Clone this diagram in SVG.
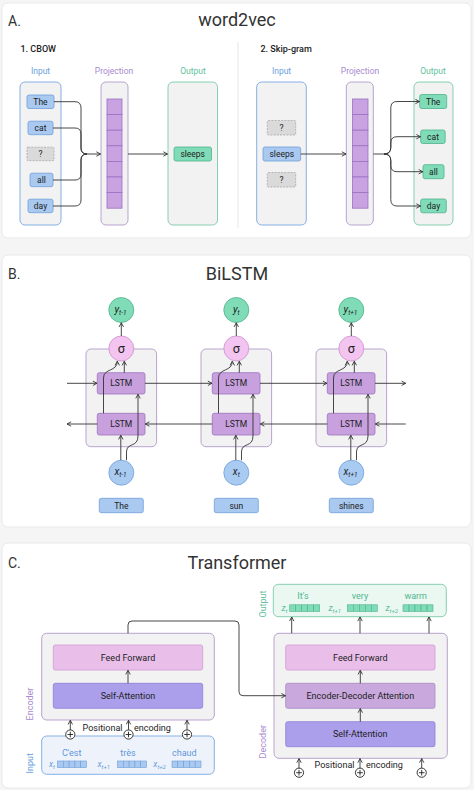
<svg xmlns="http://www.w3.org/2000/svg" width="474" height="790" viewBox="0 0 474 790">
<defs>
<marker id="ah" viewBox="0 0 6 6" refX="5.6" refY="3" markerWidth="6" markerHeight="6" orient="auto-start-reverse" markerUnits="userSpaceOnUse"><path d="M1.5,0.8 L5.6,3 L1.5,5.2" fill="none" stroke="#333" stroke-width="0.9"/></marker>
<style>
text{font-family:Roboto,"Liberation Sans",sans-serif;fill:#222}
.panel{fill:#fff;stroke:#e9e9e9;stroke-width:1}
.ttl{font-size:18px;text-anchor:middle;fill:#333}
.let{font-size:14px;fill:#333}
.sub{font-size:9px;font-weight:500;fill:#222}
.lbl{font-size:8.5px;text-anchor:middle}
.wt{font-size:8.5px;text-anchor:middle;fill:#222}
.cont{fill:#f2f2f2;stroke-width:1}
.cb{stroke:#86afe6}.cp{stroke:#b9a3cf}.cg{stroke:#86cfb0}
.bw{fill:#a9c9f1;stroke:#6d9ed9;stroke-width:0.8}
.gw{fill:#80dcb8;stroke:#4cb38c;stroke-width:0.8}
.qw{fill:#dadada;stroke:#a8a8a8;stroke-width:0.8;stroke-dasharray:2 1.2}
.pc{fill:#c9a2e2;stroke:#9b72c2;stroke-width:0.8}
.ln{fill:none;stroke:#333;stroke-width:0.9}
.arr{marker-end:url(#ah)}
.lstm{fill:#c7a0dd;stroke:#9c74bf;stroke-width:0.8}
.sig{fill:#f2c4ef;stroke:#cc90cf;stroke-width:0.8}
.yc{fill:#7fdcb7;stroke:#4cb38c;stroke-width:0.8}
.xc{fill:#a9cbf2;stroke:#6d9ed9;stroke-width:0.8}
.it{font-style:italic}
.bt{font-size:9px;text-anchor:middle;fill:#222}
.ff{fill:#e9bfea;stroke:#cf9ad6;stroke-width:0.8}
.sa{fill:#ab9feb;stroke:#8b7fd6;stroke-width:0.8}
.eda{fill:#c9a9dd;stroke:#a688c4;stroke-width:0.8}
.vl{font-size:9px;text-anchor:middle}
.plus{fill:#fff;stroke:#222;stroke-width:0.9}
.pl{stroke:#222;stroke-width:0.9}
.vb{fill:#a9c9f1;stroke:#6d9ed9;stroke-width:0.6}
.vg{fill:#80dcb8;stroke:#4cb38c;stroke-width:0.6}
text.tb{fill:#6c9fe0}
text.tp{fill:#a98ad0}
text.tg{fill:#62c09e}
text.tbd{fill:#5f96dc}
text.tgd{fill:#4fb88f}
</style>
</defs>
<rect x="0" y="0" width="474" height="790" fill="#f5f5f5"/>

<!-- Panels -->
<g id="panelA">
<rect class="panel" x="2" y="3" width="469" height="235" rx="6"/>
<text class="let" x="8" y="26">A.</text>
<text class="ttl" x="237" y="26">word2vec</text>
<line x1="238" y1="42" x2="238" y2="228" stroke="#e6e6e6" stroke-width="1"/>
</g>
<g id="panelB">
<rect class="panel" x="2" y="255" width="469" height="272" rx="6"/>
<text class="let" x="8" y="279">B.</text>
<text class="ttl" x="237" y="279.5">BiLSTM</text>
</g>
<g id="panelC">
<rect class="panel" x="2" y="543" width="469" height="245" rx="6"/>
<text class="let" x="8" y="568">C.</text>
<text class="ttl" x="237" y="568.5">Transformer</text>
</g>

<!-- word2vec CBOW -->
<g id="cbow">
<text class="sub" x="20.5" y="51.5">1. CBOW</text>
<text class="lbl tb" x="40.5" y="74">Input</text>
<text class="lbl tp" x="114" y="74">Projection</text>
<text class="lbl tg" x="193" y="74">Output</text>
<rect class="cont cb" x="20" y="82" width="41" height="143" rx="5"/>
<rect class="cont cp" x="101" y="82" width="27" height="143" rx="5"/>
<rect class="cont cg" x="168" y="82" width="49.5" height="143" rx="5"/>
</g>
<g id="cbow-in-the"><rect class="bw" x="27" y="95" width="27" height="13.5" rx="2"/><text class="wt" x="40.5" y="104.7">The</text></g>
<g id="cbow-in-cat"><rect class="bw" x="28" y="121.2" width="25" height="13.5" rx="2"/><text class="wt" x="40.5" y="131">cat</text></g>
<g id="cbow-in-q"><rect class="qw" x="27" y="147.2" width="27" height="13.5" rx="1"/><text class="wt" x="40.5" y="157">?</text></g>
<g id="cbow-in-all"><rect class="bw" x="30" y="173.2" width="23" height="13.5" rx="2"/><text class="wt" x="41.5" y="183">all</text></g>
<g id="cbow-in-day"><rect class="bw" x="28" y="199.2" width="25" height="13.5" rx="2"/><text class="wt" x="40.5" y="209">day</text></g>
<g id="cbow-proj">
<rect class="pc" x="107" y="99" width="15" height="15.6"/>
<rect class="pc" x="107" y="114.6" width="15" height="15.6"/>
<rect class="pc" x="107" y="130.2" width="15" height="15.6"/>
<rect class="pc" x="107" y="145.8" width="15" height="15.6"/>
<rect class="pc" x="107" y="161.4" width="15" height="15.6"/>
<rect class="pc" x="107" y="177" width="15" height="15.6"/>
<rect class="pc" x="107" y="192.6" width="15" height="15.6"/>
</g>
<g id="cbow-out-sleeps"><rect class="gw" x="174" y="147" width="37.5" height="14" rx="2"/><text class="wt" x="192.7" y="157">sleeps</text></g>

<!-- word2vec Skip-gram -->
<g id="skipgram">
<text class="sub" x="260.5" y="51.5">2. Skip-gram</text>
<text class="lbl tb" x="281.5" y="74">Input</text>
<text class="lbl tp" x="360" y="74">Projection</text>
<text class="lbl tg" x="433" y="74">Output</text>
<rect class="cont cb" x="256.7" y="82" width="49.6" height="143" rx="5"/>
<rect class="cont cp" x="346.3" y="82" width="27" height="143" rx="5"/>
<rect class="cont cg" x="414" y="82" width="39" height="143" rx="5"/>
</g>
<g id="sg-in-q1"><rect class="qw" x="267.3" y="120.5" width="28.4" height="14.5" rx="1"/><text class="wt" x="281.5" y="130.7">?</text></g>
<g id="sg-in-sleeps"><rect class="bw" x="263" y="147" width="37.7" height="14" rx="2"/><text class="wt" x="281.8" y="157">sleeps</text></g>
<g id="sg-in-q2"><rect class="qw" x="267.3" y="172.5" width="28.4" height="14.5" rx="1"/><text class="wt" x="281.5" y="182.7">?</text></g>
<g id="sg-proj">
<rect class="pc" x="352.5" y="99" width="15.5" height="15.6"/>
<rect class="pc" x="352.5" y="114.6" width="15.5" height="15.6"/>
<rect class="pc" x="352.5" y="130.2" width="15.5" height="15.6"/>
<rect class="pc" x="352.5" y="145.8" width="15.5" height="15.6"/>
<rect class="pc" x="352.5" y="161.4" width="15.5" height="15.6"/>
<rect class="pc" x="352.5" y="177" width="15.5" height="15.6"/>
<rect class="pc" x="352.5" y="192.6" width="15.5" height="15.6"/>
</g>
<g id="sg-out-the"><rect class="gw" x="419.7" y="94.5" width="27" height="14" rx="2"/><text class="wt" x="433.2" y="104.5">The</text></g>
<g id="sg-out-cat"><rect class="gw" x="420.7" y="130" width="24.5" height="13.5" rx="2"/><text class="wt" x="433" y="139.8">cat</text></g>
<g id="sg-out-all"><rect class="gw" x="423" y="164.7" width="21" height="14" rx="2"/><text class="wt" x="433.5" y="174.7">all</text></g>
<g id="sg-out-day"><rect class="gw" x="420.7" y="199" width="25.6" height="13.8" rx="2"/><text class="wt" x="433.5" y="209">day</text></g>

<!-- BiLSTM cells -->
<g id="bilstm-cell1">
<rect class="cont cp" x="86" y="349" width="70.6" height="97.7" rx="5"/>
<rect class="lstm" x="97.3" y="372.7" width="47.7" height="21.3" rx="2"/><text class="wt" x="121.2" y="386.3">LSTM</text>
<rect class="lstm" x="97.3" y="413.3" width="47.7" height="21.7" rx="2"/><text class="wt" x="121.2" y="427.2">LSTM</text>
<circle class="sig" cx="121.3" cy="348.5" r="12.5"/><text x="121.3" y="352.8" font-size="12.5" text-anchor="middle">σ</text>
<circle class="yc" cx="121.3" cy="310" r="12.5"/><text x="120.5" y="313" font-size="10" text-anchor="middle" class="it">y<tspan font-size="6.5" dy="1.5">t-1</tspan></text>
<circle class="xc" cx="121.3" cy="472.7" r="12.5"/><text x="120.5" y="475" font-size="10" text-anchor="middle" class="it">x<tspan font-size="6.5" dy="2">t-1</tspan></text>
<rect class="bw" x="99.3" y="498.3" width="44" height="14.4" rx="2"/><text class="wt" x="121.3" y="508.5">The</text>
</g>
<g id="bilstm-cell2">
<rect class="cont cp" x="201" y="349" width="70.6" height="97.7" rx="5"/>
<rect class="lstm" x="212.3" y="372.7" width="47.7" height="21.3" rx="2"/><text class="wt" x="236.2" y="386.3">LSTM</text>
<rect class="lstm" x="212.3" y="413.3" width="47.7" height="21.7" rx="2"/><text class="wt" x="236.2" y="427.2">LSTM</text>
<circle class="sig" cx="236.3" cy="348.5" r="12.5"/><text x="236.3" y="352.8" font-size="12.5" text-anchor="middle">σ</text>
<circle class="yc" cx="236.3" cy="310" r="12.5"/><text x="236.3" y="313" font-size="10" text-anchor="middle" class="it">y<tspan font-size="6.5" dy="1.5">t</tspan></text>
<circle class="xc" cx="236.3" cy="472.7" r="12.5"/><text x="236.3" y="475" font-size="10" text-anchor="middle" class="it">x<tspan font-size="6.5" dy="2">t</tspan></text>
<rect class="bw" x="214.3" y="498.3" width="44" height="14.4" rx="2"/><text class="wt" x="236.3" y="508.5">sun</text>
</g>
<g id="bilstm-cell3">
<rect class="cont cp" x="316" y="349" width="70.6" height="97.7" rx="5"/>
<rect class="lstm" x="327.3" y="372.7" width="47.7" height="21.3" rx="2"/><text class="wt" x="351.2" y="386.3">LSTM</text>
<rect class="lstm" x="327.3" y="413.3" width="47.7" height="21.7" rx="2"/><text class="wt" x="351.2" y="427.2">LSTM</text>
<circle class="sig" cx="351.3" cy="348.5" r="12.5"/><text x="351.3" y="352.8" font-size="12.5" text-anchor="middle">σ</text>
<circle class="yc" cx="351.3" cy="310" r="12.5"/><text x="350.5" y="313" font-size="10" text-anchor="middle" class="it">y<tspan font-size="6.5" dy="1.5">t+1</tspan></text>
<circle class="xc" cx="351.3" cy="472.7" r="12.5"/><text x="350.5" y="475" font-size="10" text-anchor="middle" class="it">x<tspan font-size="6.5" dy="2">t+1</tspan></text>
<rect class="bw" x="329.3" y="498.3" width="44" height="14.4" rx="2"/><text class="wt" x="351.3" y="508.5">shines</text>
</g>

<!-- Transformer -->
<g id="encoder">
<rect class="cont cp" x="41.7" y="633.3" width="172.6" height="86.7" rx="5"/>
<rect class="ff" x="53.3" y="645" width="149.4" height="25" rx="2"/><text class="bt" x="128" y="660.5">Feed Forward</text>
<rect class="sa" x="53.3" y="683.3" width="149.4" height="25" rx="2"/><text class="bt" x="128" y="698.8">Self-Attention</text>
<text class="vl tp" transform="translate(33,704) rotate(-90)">Encoder</text>
</g>
<g id="input">
<rect x="41.7" y="736" width="172.6" height="38.3" rx="5" fill="#eef3fb" stroke="#86afe6" stroke-width="1"/>
<text class="vl tb" transform="translate(33,763.3) rotate(-90)">Input</text>
<text class="bt tbd" x="71.7" y="755.5">C'est</text>
<text class="bt tbd" x="128" y="755.5">très</text>
<text class="bt tbd" x="184.3" y="755.5">chaud</text>
<text x="49" y="767" font-size="8.5" class="it tb">x<tspan font-size="6" dy="1.5">t</tspan></text>
<text x="97.5" y="767" font-size="8.5" class="it tb">x<tspan font-size="6" dy="1.5">t+1</tspan></text>
<text x="153.3" y="767" font-size="8.5" class="it tb">x<tspan font-size="6" dy="1.5">t+2</tspan></text>
<g class="vb">
<rect x="57.5" y="761" width="5.8" height="6.6"/><rect x="63.3" y="761" width="5.8" height="6.6"/><rect x="69.1" y="761" width="5.8" height="6.6"/><rect x="74.9" y="761" width="5.8" height="6.6"/><rect x="80.7" y="761" width="5.8" height="6.6"/>
<rect x="117.5" y="761" width="5.8" height="6.6"/><rect x="123.3" y="761" width="5.8" height="6.6"/><rect x="129.1" y="761" width="5.8" height="6.6"/><rect x="134.9" y="761" width="5.8" height="6.6"/><rect x="140.7" y="761" width="5.8" height="6.6"/>
<rect x="172" y="761" width="5.8" height="6.6"/><rect x="177.8" y="761" width="5.8" height="6.6"/><rect x="183.6" y="761" width="5.8" height="6.6"/><rect x="189.4" y="761" width="5.8" height="6.6"/><rect x="195.2" y="761" width="5.8" height="6.6"/>
</g>
</g>
<g id="enc-posenc">
<text x="122.5" y="730.5" font-size="9" text-anchor="end">Positional</text>
<text x="134" y="730.5" font-size="9">encoding</text>
<circle class="plus" cx="70.3" cy="734.5" r="4.6"/><path class="pl" d="M67.5,734.5 H73.1 M70.3,731.7 V737.3"/>
<circle class="plus" cx="128.5" cy="734.5" r="4.6"/><path class="pl" d="M125.7,734.5 H131.3 M128.5,731.7 V737.3"/>
<circle class="plus" cx="187" cy="734.5" r="4.6"/><path class="pl" d="M184.2,734.5 H189.8 M187,731.7 V737.3"/>
</g>
<g id="decoder">
<rect class="cont cp" x="274" y="633.3" width="173.3" height="125" rx="5"/>
<rect class="ff" x="285.7" y="645" width="149.3" height="25" rx="2"/><text class="bt" x="360.3" y="660.5">Feed Forward</text>
<rect class="eda" x="285.7" y="683.3" width="149.3" height="25" rx="2"/><text class="bt" x="360.3" y="698.8">Encoder-Decoder Attention</text>
<rect class="sa" x="285.7" y="721.7" width="149.3" height="25" rx="2"/><text class="bt" x="360.3" y="737.2">Self-Attention</text>
<text class="vl tp" transform="translate(266,741.7) rotate(-90)">Decoder</text>
</g>
<g id="output">
<rect x="273.3" y="584.3" width="173" height="32.4" rx="5" fill="#ebf7f1" stroke="#86cfb0" stroke-width="1"/>
<text class="vl tg" transform="translate(266,604) rotate(-90)">Output</text>
<text class="bt tgd" x="303" y="598.8">It's</text>
<text class="bt tgd" x="360" y="598.8">very</text>
<text class="bt tgd" x="415.7" y="598.8">warm</text>
<text x="281.5" y="611" font-size="8.5" class="it tg">z<tspan font-size="6" dy="1.5">t</tspan></text>
<text x="328.5" y="611" font-size="8.5" class="it tg">z<tspan font-size="6" dy="1.5">t+1</tspan></text>
<text x="385.5" y="611" font-size="8.5" class="it tg">z<tspan font-size="6" dy="1.5">t+2</tspan></text>
<g class="vg">
<rect x="289.7" y="604.8" width="6" height="6.6"/><rect x="295.7" y="604.8" width="6" height="6.6"/><rect x="301.7" y="604.8" width="6" height="6.6"/><rect x="307.7" y="604.8" width="6" height="6.6"/><rect x="313.7" y="604.8" width="6" height="6.6"/>
<rect x="347.3" y="604.8" width="6" height="6.6"/><rect x="353.3" y="604.8" width="6" height="6.6"/><rect x="359.3" y="604.8" width="6" height="6.6"/><rect x="365.3" y="604.8" width="6" height="6.6"/><rect x="371.3" y="604.8" width="6" height="6.6"/>
<rect x="403" y="604.8" width="6" height="6.6"/><rect x="409" y="604.8" width="6" height="6.6"/><rect x="415" y="604.8" width="6" height="6.6"/><rect x="421" y="604.8" width="6" height="6.6"/><rect x="427" y="604.8" width="6" height="6.6"/>
</g>
</g>
<g id="dec-posenc">
<text x="354.5" y="767.5" font-size="9" text-anchor="end">Positional</text>
<text x="366" y="767.5" font-size="9">encoding</text>
<circle class="plus" cx="299" cy="772.7" r="4.6"/><path class="pl" d="M296.2,772.7 H301.8 M299,769.9 V775.5"/>
<circle class="plus" cx="360" cy="772.7" r="4.6"/><path class="pl" d="M357.2,772.7 H362.8 M360,769.9 V775.5"/>
<circle class="plus" cx="421.7" cy="772.7" r="4.6"/><path class="pl" d="M418.9,772.7 H424.5 M421.7,769.9 V775.5"/>
</g>

<!-- Connectors -->
<g id="connectors">
<!-- CBOW -->
<path class="ln" d="M54,101.7 H75 Q81,101.7 81,108 V148 Q81,154 87,154"/>
<path class="ln" d="M53,128 H75 Q81,128 81,134 V148 Q81,154 87,154"/>
<path class="ln" d="M53,180 H75 Q81,180 81,174 V160 Q81,154 87,154"/>
<path class="ln" d="M53,206 H75 Q81,206 81,200 V160 Q81,154 87,154"/>
<path class="ln arr" d="M86,154 H100.5"/>
<path class="ln arr" d="M128,154 H167.5"/>
<!-- Skip-gram -->
<path class="ln arr" d="M300.7,154 H346"/>
<path class="ln" d="M373.3,154 H385"/>
<path class="ln arr" d="M384,154 Q390.8,154 390.8,147.5 V107.8 Q390.8,101.5 397,101.5 H419.5"/>
<path class="ln arr" d="M384,154 Q390.8,154 390.8,147.5 V143 Q390.8,136.7 397,136.7 H420.5"/>
<path class="ln arr" d="M384,154 Q390.8,154 390.8,160.5 V165.5 Q390.8,171.7 397,171.7 H422.8"/>
<path class="ln arr" d="M384,154 Q390.8,154 390.8,160.5 V199.7 Q390.8,206 397,206 H420.5"/>
<!-- BiLSTM horizontal -->
<path class="ln arr" d="M67,383.3 H97"/>
<path class="ln arr" d="M145,383.3 H212"/>
<path class="ln arr" d="M260,383.3 H327"/>
<path class="ln arr" d="M375,383.3 H405.7"/>
<path class="ln arr" d="M405.7,424 H375.3"/>
<path class="ln arr" d="M327.3,424 H260.3"/>
<path class="ln arr" d="M212.3,424 H145.3"/>
<path class="ln arr" d="M97.3,424 H67"/>
<!-- BiLSTM cell1 -->
<path class="ln arr" d="M121.3,336 V322.8"/>
<path class="ln arr" d="M124.3,372.7 V361.3"/>
<path class="ln arr" d="M103.5,413.3 V378 C103.5,368 117.3,372 117.3,361.3"/>
<path class="ln arr" d="M120.8,460.2 V435.3"/>
<path class="ln arr" d="M126.5,460.2 V452 C126.5,442 138,448 138,436 V394.3"/>
<!-- BiLSTM cell2 -->
<path class="ln arr" d="M236.3,336 V322.8"/>
<path class="ln arr" d="M239.3,372.7 V361.3"/>
<path class="ln arr" d="M218.5,413.3 V378 C218.5,368 232.3,372 232.3,361.3"/>
<path class="ln arr" d="M235.8,460.2 V435.3"/>
<path class="ln arr" d="M241.5,460.2 V452 C241.5,442 253,448 253,436 V394.3"/>
<!-- BiLSTM cell3 -->
<path class="ln arr" d="M351.3,336 V322.8"/>
<path class="ln arr" d="M354.3,372.7 V361.3"/>
<path class="ln arr" d="M333.5,413.3 V378 C333.5,368 347.3,372 347.3,361.3"/>
<path class="ln arr" d="M350.8,460.2 V435.3"/>
<path class="ln arr" d="M356.5,460.2 V452 C356.5,442 368,448 368,436 V394.3"/>
<!-- Transformer -->
<path class="ln arr" d="M128,683.3 V670.3"/>
<path class="ln arr" d="M70.3,729.9 V720.3"/>
<path class="ln arr" d="M128.5,729.9 V720.3"/>
<path class="ln arr" d="M187,729.9 V720.3"/>
<path class="ln arr" d="M128,633.3 V625 Q128,621 132,621 H235 Q239,621 239,625 V691.7 Q239,695.7 243,695.7 H285.5"/>
<path class="ln arr" d="M360.3,721.7 V708.6"/>
<path class="ln arr" d="M360.3,683.3 V670.3"/>
<path class="ln arr" d="M291.7,633.3 V617"/>
<path class="ln arr" d="M360,633.3 V617"/>
<path class="ln arr" d="M429,633.3 V617"/>
<path class="ln arr" d="M299,768.1 V758.6"/>
<path class="ln arr" d="M360,768.1 V758.6"/>
<path class="ln arr" d="M421.7,768.1 V758.6"/>
</g>
</svg>
